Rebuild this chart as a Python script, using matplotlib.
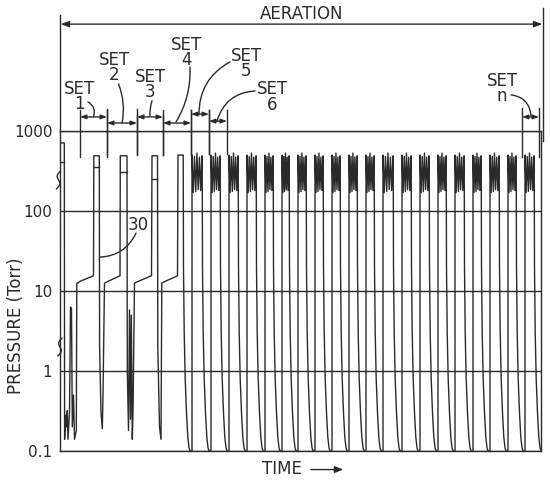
import numpy as np
import matplotlib
matplotlib.use('Agg')
import matplotlib.pyplot as plt
import matplotlib.transforms as mtransforms
from matplotlib.ticker import NullLocator

# time in arbitrary units (0 .. 481), pressure in Torr

# first part of the trace (sets 1-4), read point by point
start_t = [0.3, 4.3, 4.6, 5.8, 6.5, 7.3, 8.0, 9.5, 10.5, 11.5, 12.3, 13.5, 14.5, 16.3,
           16.8, 18.0, 20.0, 33.5, 33.8, 39.3, 39.6, 41.0, 42.3, 43.0, 44.5, 46.0,
           48.0, 60.0, 60.3, 67.0, 67.3, 68.5, 69.5, 70.5, 71.3, 72.3, 73.0, 74.5,
           77.0, 91.5, 92.0, 97.5, 97.8, 99.5, 101.0, 101.8, 104.0, 117.5, 118.0, 123.2]
start_p = [710, 710, 0.14, 0.28, 0.2, 0.32, 0.14, 0.3, 6.3, 6.0, 0.2, 0.5, 0.14, 0.18,
           12.5, 12.6, 13.2, 15.5, 490, 490, 2.0, 0.3, 0.19, 0.5, 12.5, 12.8,
           13.2, 15.5, 490, 490, 1.0, 0.18, 5.8, 0.25, 5.0, 0.14, 0.3, 12.5,
           13.0, 15.5, 490, 490, 2.0, 0.2, 0.14, 12.5, 13.0, 15.5, 500, 500]

# small ledge drawn inside each of the first tall pulses
ledge_t0 = [0.3, 33.8, 60.3, 92.0]
ledge_t1 = [3.5, 38.5, 66.5, 97.0]
ledge_p = [410, 355, 307, 251]

# regular aeration cycles: time at which each pump-down reaches the floor
bottom_t = [130, 149, 167, 185, 203, 220, 236, 253, 270, 287, 304, 321, 340,
            358, 376, 393, 411, 428, 446, 463, 481]
# pump-down curve shape, relative to the bottom time
decay_dt = [-6.8, -6.5, -5.8, -4.8, -3.5, -2.2, -1.0, 0.0]
decay_p = [490, 20, 3.0, 0.8, 0.3, 0.15, 0.11, 0.1]
# ragged top of each vented cycle
top_p = [500, 170, 480, 175, 530, 185, 470, 180, 480]

# set brackets
set_names = ['1', '2', '3', '4', '5', '6', 'n']
set_left = [20, 47, 77, 103, 131, 149, 462]
set_right = [47, 77, 103, 131, 149, 167, 479]

# build the trace
t = list(start_t)
p = list(start_p)
for i, b in enumerate(bottom_t):
    t += [b + d for d in decay_dt]
    p += decay_p
    if i + 1 < len(bottom_t):
        t0 = b + 2.0
        t1 = bottom_t[i + 1] + decay_dt[0] - 0.3
        t += [t0] + list(np.linspace(t0, t1, len(top_p)))
        p += [0.1] + top_p

fig = plt.figure(figsize=(5.5, 4.82), dpi=100)
ax = fig.add_axes([60 / 550, 31 / 482, 481 / 550, 320 / 482])
ink = '#2a2a2a'

ax.plot(t, p, color=ink, lw=1.0)
for a, b, lv in zip(ledge_t0, ledge_t1, ledge_p):
    ax.plot([a, b], [lv, lv], color=ink, lw=1.0)

ax.set_yscale('log')
ax.set_ylim(0.1, 1000)
ax.set_xlim(0, 481)
ax.set_yticks([0.1, 1, 10, 100, 1000])
ax.set_yticklabels(['0.1', '1', '10', '100', '1000'])
ax.yaxis.set_minor_locator(NullLocator())
ax.set_xticks([])
ax.tick_params(axis='y', length=0, pad=5.5, labelsize=11, colors=ink)
ax.grid(axis='y', color=ink, lw=1.0)
for s in ax.spines.values():
    s.set_color(ink)
    s.set_linewidth(1.0)

ax.set_ylabel('PRESSURE (Torr)', fontsize=12, color=ink)
ax.yaxis.set_label_coords(-0.073, 0.39)

trans = mtransforms.blended_transform_factory(ax.transData, ax.transAxes)

# TIME arrow
ax.text(221.5, -0.056, 'TIME', transform=trans, ha='center', va='center',
        fontsize=12, color=ink)
ax.annotate('', xy=(286, -0.058), xytext=(248, -0.058), xycoords=trans,
            arrowprops=dict(arrowstyle='-|>,head_length=0.5,head_width=0.2',
                            color=ink, lw=1.0))

# AERATION bracket
ax.plot([0, 0], [1.0, 1.3625], transform=trans, color=ink, lw=1.0, clip_on=False)
ax.plot([483, 483], [0.97, 1.384], transform=trans, color=ink, lw=1.0, clip_on=False)
ax.annotate('', xy=(0.5, 1.334), xytext=(482.5, 1.334), xycoords=trans,
            arrowprops=dict(arrowstyle='<|-|>,head_length=0.5,head_width=0.18',
                            color=ink, lw=1.0, shrinkA=0, shrinkB=0))
ax.text(242, 1.366, 'AERATION', transform=trans, ha='center', va='center',
        fontsize=12, color=ink)

# SET brackets
arrow_y = [1.044, 1.025, 1.044, 1.025, 1.053, 1.031, 1.044]
tick_top = [1.066, 1.069, 1.05, 1.066, 1.066, 1.066, 1.072]
tick_bot = [0.919, 0.928, 0.925, 0.925, 0.928, 0.928, 0.919]
for i in range(len(set_names)):
    for x in (set_left[i], set_right[i]):
        ax.plot([x, x], [tick_bot[i], tick_top[i]], transform=trans, color=ink,
                lw=1.0, clip_on=False)
    ax.annotate('', xy=(set_left[i], arrow_y[i]), xytext=(set_right[i], arrow_y[i]),
                xycoords=trans,
                arrowprops=dict(arrowstyle='<|-|>,head_length=0.35,head_width=0.13',
                                color=ink, lw=1.0, shrinkA=0, shrinkB=0))

set_tx = [19, 54, 90.4, 126.7, 186.5, 212, 442]
set_ty = [1.109, 1.199, 1.146, 1.246, 1.210, 1.106, 1.133]
for i, name in enumerate(set_names):
    ax.text(set_tx[i], set_ty[i], 'SET\n' + name, transform=trans, ha='center',
            va='center', ma='center', linespacing=0.8, fontsize=12, color=ink)

# leader lines
lead_from = [(28, 1.091), (58.5, 1.147), (92, 1.094), (130, 1.200), (170, 1.216),
             (195, 1.125), (451, 1.113), (76, 0.681)]
lead_to = [(33.5, 1.044), (62, 1.025), (90, 1.047), (116, 1.028), (139, 1.050),
           (157, 1.031), (471, 1.047), (40, 0.606)]
lead_rad = [-0.4, -0.15, 0.1, -0.15, 0.3, 0.35, -0.4, -0.3]
for a, b, r in zip(lead_from, lead_to, lead_rad):
    ax.annotate('', xy=b, xytext=a, xycoords=trans,
                arrowprops=dict(arrowstyle='-', color=ink, lw=1.0,
                                connectionstyle='arc3,rad=%s' % r,
                                shrinkA=0, shrinkB=0))
ax.text(78, 0.706, '30', transform=trans, ha='center', va='center',
        fontsize=12, color=ink)

# axis break marks (small S strokes across the pressure axis)
s = np.linspace(0, 1, 30)
for xb, yb in ((-1.5, 0.847), (0.0, 0.325)):
    ax.plot(xb + 2.2 * np.sin(2 * np.pi * s) + 4.0 * (s - 0.5),
            yb + 0.055 * (s - 0.5), transform=trans, color=ink, lw=1.0,
            clip_on=False)

plt.savefig('out.png', dpi=100, facecolor='white')
